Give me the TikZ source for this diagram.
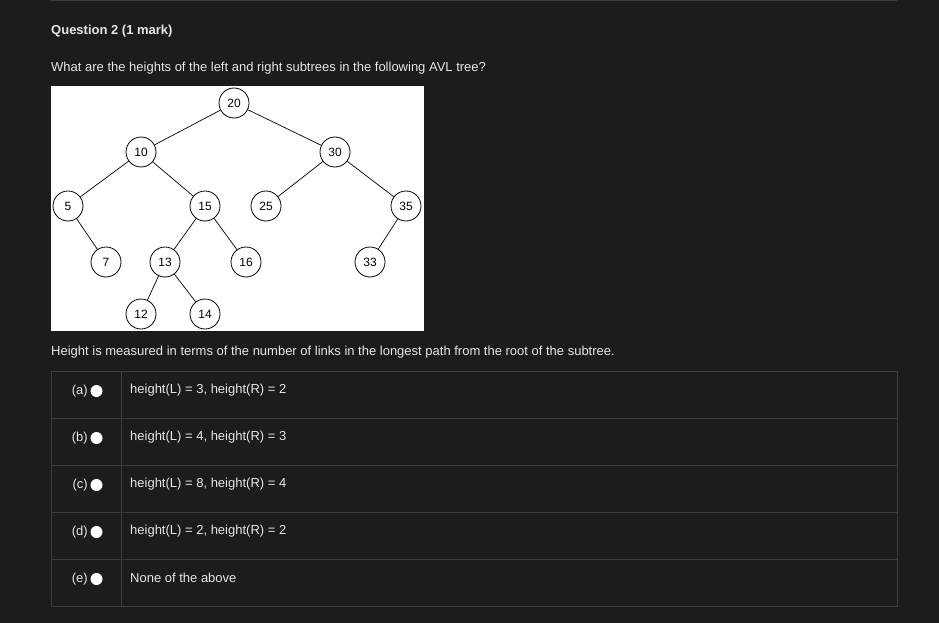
\documentclass[tikz,border=0pt]{standalone}
\usepackage{fontspec}
\setmainfont{Liberation Sans}
\definecolor{bg}{HTML}{1B1C1C}
\definecolor{fg}{HTML}{E6E6E6}
\definecolor{ln}{HTML}{3C3D3D}
\begin{document}
\begin{tikzpicture}[x=1pt,y=-1pt,
  tn/.style={circle,draw=black,fill=white,line width=0.8pt,minimum size=30pt,inner sep=0pt,font=\fontsize{12}{14}\selectfont},
  ed/.style={draw=black,line width=0.7pt},
  tx/.style={text=fg,anchor=west,inner sep=0pt,font=\fontsize{13}{15}\selectfont},
  lab/.style={text=fg,anchor=east,inner sep=0pt,font=\fontsize{13}{15}\selectfont},
  radio/.style={circle,fill=white,minimum size=12pt,inner sep=0pt}]
\fill[bg] (0,0) rectangle (939,623);
\useasboundingbox (0,0) rectangle (939,623);
\draw[ln] (51,0.5) -- (897,0.5);
\node[tx,font=\fontsize{13}{15}\selectfont\bfseries] (q) at (51,31) {Question 2 (1 mark)};
\node[tx] (w) at (51,68) {What are the heights of the left and right subtrees in the following AVL tree?};
\fill[white] (51,86) rectangle (424,331);
\node[tn] (n20) at (234,103) {20};
\node[tn] (n10) at (141,152) {10};
\node[tn] (n30) at (335,152) {30};
\node[tn] (n5) at (68,206) {5};
\node[tn] (n15) at (205,206) {15};
\node[tn] (n25) at (266,206) {25};
\node[tn] (n35) at (406,206) {35};
\node[tn] (n7) at (106,262) {7};
\node[tn] (n13) at (165,262) {13};
\node[tn] (n16) at (246,262) {16};
\node[tn] (n33) at (370,262) {33};
\node[tn] (n12) at (141,314) {12};
\node[tn] (n14) at (205,314) {14};
\foreach \a/\b in {n20/n10,n20/n30,n10/n5,n10/n15,n5/n7,n15/n13,n15/n16,n30/n25,n30/n35,n35/n33,n13/n12,n13/n14}
  \draw[ed] (\a) -- (\b);
\node[tx] (h) at (51,352) {Height is measured in terms of the number of links in the longest path from the root of the subtree.};
\draw[ln] (51,371) rectangle (897,606);
\draw[ln] (121,371) -- (121,606);
\foreach \y in {418,465,512,559} \draw[ln] (51,\y) -- (897,\y);
\foreach \i/\l/\t in {0/a/{height(L) = 3, height(R) = 2},1/b/{height(L) = 4, height(R) = 3},2/c/{height(L) = 8, height(R) = 4},3/d/{height(L) = 2, height(R) = 2},4/e/{None of the above}}{
  \node[lab] (l\l) at (88,{391+47*\i}) {(\l)};
  \node[radio] (r\l) at (96.5,{391+47*\i}) {};
  \node[tx] (t\l) at (130,{390+47*\i}) {\t};
}
\end{tikzpicture}
\end{document}
